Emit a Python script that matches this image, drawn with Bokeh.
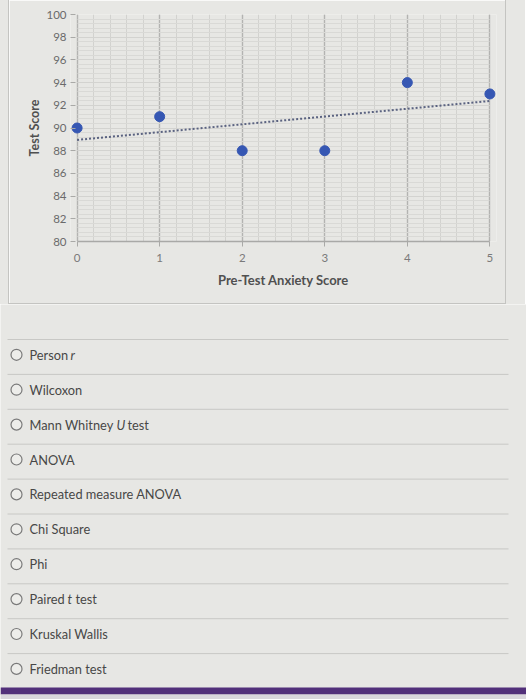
import numpy as np
from bokeh.plotting import figure
from bokeh.models import SingleIntervalTicker, Range1d, ColumnDataSource, Grid
from bokeh.core.properties import value
from bokeh.embed import file_html
from bokeh.resources import INLINE

# ---------------- data ----------------
anxiety = [0, 1, 2, 3, 4, 5]
test_score = [90, 91, 88, 88, 94, 93]
x_title = "Pre-Test Anxiety Score"
y_title = "Test Score"

options = ["Person r", "Wilcoxon", "Mann Whitney U test", "ANOVA",
           "Repeated measure ANOVA", "Chi Square", "Phi", "Paired t test",
           "Kruskal Wallis", "Friedman test"]
italic_parts = {"Person r": "r", "Mann Whitney U test": "U", "Paired t test": "t"}

# ---------------- styles ----------------
BG = "#e7e7e4"
FONT = "Lato"

# ---------------- chart ----------------
p = figure(width=498, height=304,
           x_range=Range1d(-0.08, 5.08), y_range=Range1d(80, 100),
           output_backend="svg", toolbar_location=None,
           min_border_left=61, min_border_right=11,
           min_border_top=14, min_border_bottom=63)
p.background_fill_color = BG
p.border_fill_color = BG
p.outline_line_color = None
p.styles = {"margin-left": "8px",
            "border-left": "1px solid #c4c4c1",
            "border-right": "1px solid #c4c4c1",
            "border-bottom": "1px solid #c4c4c1",
            "box-shadow": f"-9px 0 0 0 {BG}, 19px 0 0 0 {BG}"}

p.xaxis.ticker = SingleIntervalTicker(interval=1, num_minor_ticks=5)
p.yaxis.ticker = SingleIntervalTicker(interval=2, num_minor_ticks=5)

# grid
p.xgrid.grid_line_color = "#b3b3b1"
p.xgrid.grid_line_width = 1.4
p.xgrid.minor_grid_line_color = "#d2d2cf"
p.xgrid.minor_grid_line_width = 1
p.ygrid.grid_line_color = "#d3d3d0"
p.ygrid.minor_grid_line_color = "#d9d9d6"
p.ygrid.minor_grid_line_width = 1
if "cross_bounds" in Grid.properties():
    p.ygrid.cross_bounds = (0, 5)
    p.xgrid.cross_bounds = (80, 100)

# x axis
xa = p.xaxis[0]
xa.bounds = (0, 5)
xa.axis_line_color = "#a9a9a7"
xa.axis_line_width = 1.4
xa.major_tick_line_color = "#a9a9a7"
xa.major_tick_out = 5
xa.major_tick_in = 0
xa.minor_tick_line_color = None
xa.major_label_text_font = FONT
xa.major_label_text_font_size = "11.5px"
xa.major_label_text_color = "#7a7a7a"
xa.major_label_standoff = 7
xa.axis_label = x_title
xa.axis_label_text_font = FONT
xa.axis_label_text_font_style = "bold"
xa.axis_label_text_font_size = "13px"
xa.axis_label_text_color = "#505050"
xa.axis_label_standoff = 7

# y axis
ya = p.yaxis[0]
ya.axis_line_color = None
ya.major_tick_line_color = "#a9a9a7"
ya.major_tick_out = 0
ya.major_tick_in = 5
ya.minor_tick_line_color = None
ya.major_label_text_font = FONT
ya.major_label_text_font_size = "11.5px"
ya.major_label_text_color = "#6a6a6a"
ya.major_label_standoff = 0
ya.axis_label = y_title
ya.axis_label_text_font = FONT
ya.axis_label_text_font_style = "bold"
ya.axis_label_text_font_size = "12.5px"
ya.axis_label_text_color = "#505050"
ya.axis_label_standoff = 1

# trend line (least squares fit of the data)
slope, intercept = np.polyfit(anxiety, test_score, 1)
fit_x = np.array([min(anxiety), max(anxiety)], dtype=float)
p.line(fit_x, slope * fit_x + intercept, line_color="#5a6280",
       line_width=2, line_dash="2 2")

p.scatter(anxiety, test_score, size=10, fill_color="#3657b3",
          line_color="#3657b3")

# ---------------- answer list ----------------
LW, LH = 526, 395
q = figure(width=LW, height=LH, x_range=Range1d(0, LW), y_range=Range1d(LH, 0),
           output_backend="svg", toolbar_location=None,
           min_border_left=0, min_border_right=0,
           min_border_top=0, min_border_bottom=0)
q.axis.visible = False
q.grid.visible = False
q.outline_line_color = None
q.background_fill_color = BG
q.border_fill_color = BG

first_sep, step = 35, 34.9
sep_y = [first_sep + i * step for i in range(len(options))]
q.segment(x0=[7] * len(sep_y), x1=[508] * len(sep_y), y0=sep_y, y1=sep_y,
          line_color="#c8c8c5", line_width=1)

opt_y = [s + 15.3 for s in sep_y]
q.scatter(x=[16] * len(options), y=opt_y, size=11, marker="circle",
          fill_color="#ededea", line_color="#7a7a7a", line_width=1.2)

text_x0 = 29
seg_offsets = {"Person r": (41, None), "Mann Whitney U test": (87, 98),
               "Paired t test": (38, 46)}
norm = dict(x=[], y=[], text=[])
ital = dict(x=[], y=[], text=[])
for opt, yy in zip(options, opt_y):
    if opt in italic_parts:
        letter = italic_parts[opt]
        idx = opt.index(" " + letter) + 1
        prefix, suffix = opt[:idx], opt[idx + 1:].strip()
        o1, o2 = seg_offsets[opt]
        norm["x"].append(text_x0); norm["y"].append(yy); norm["text"].append(prefix.rstrip())
        ital["x"].append(text_x0 + o1); ital["y"].append(yy); ital["text"].append(letter)
        if suffix:
            norm["x"].append(text_x0 + o2); norm["y"].append(yy); norm["text"].append(suffix)
    else:
        norm["x"].append(text_x0); norm["y"].append(yy); norm["text"].append(opt)

q.text(x="x", y="y", text="text", source=ColumnDataSource(norm),
       text_font=value(FONT), text_font_size="12.8px", text_color="#474747",
       text_baseline="middle", text_align="left")
q.text(x="x", y="y", text="text", source=ColumnDataSource(ital),
       text_font=value(FONT), text_font_size="12.8px", text_color="#474747",
       text_font_style="italic", text_baseline="middle", text_align="left")

# bottom purple bar of the screen
q.quad(left=[0], right=[LW], top=[383], bottom=[390], fill_color="#52307a",
       line_color=None)
q.quad(left=[0], right=[LW], top=[390], bottom=[LH], fill_color="#d9d6dc",
       line_color=None)

open("out.html", "w").write(file_html([p, q], INLINE))
